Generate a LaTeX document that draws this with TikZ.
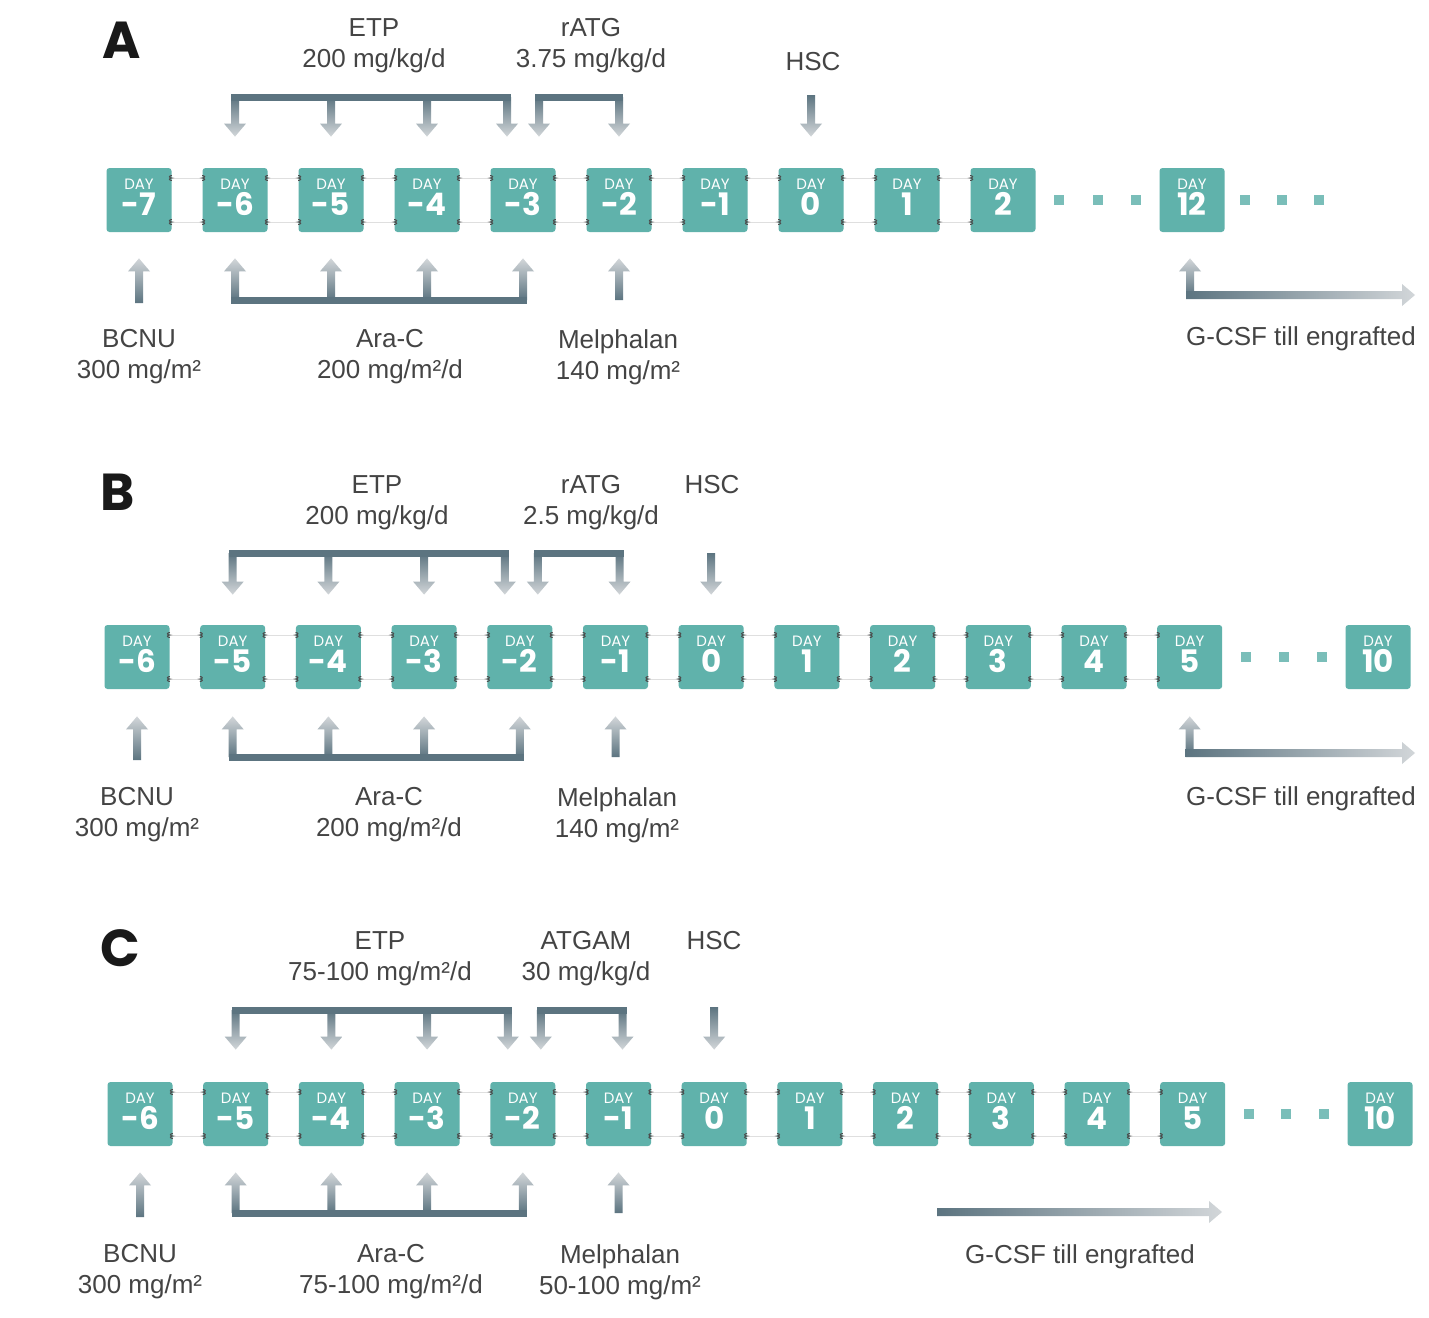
\documentclass[tikz,border=0pt]{standalone}
\usepackage{fontspec}
\setmainfont{Liberation Sans}
\newfontfamily\dayfont{Poppins}
\usetikzlibrary{arrows.meta,calc}
\definecolor{daytl}{RGB}{96,178,171}
\definecolor{dotcl}{RGB}{122,190,185}
\definecolor{arrdark}{RGB}{92,116,128}
\definecolor{arrlight}{RGB}{210,214,217}
\definecolor{txtgr}{RGB}{68,68,68}

\newcommand{\daytxt}[1]{{\fontsize{7.5}{7.5}\selectfont DAY}\\{\bfseries #1}}
% #1 box, #2 height of the bar, #3 x offset, #4 gap to the box
\newcommand{\dnarr}[4]{%
  \path ($(#1.north |- #2)+(#3,0)$) coordinate (aT) ($(#1.north)+(#3,-#4)$) coordinate (aH);
  \shade[top color=arrdark,bottom color=arrlight] ($(aT)+(-4,0)$) -- ($(aT)+(4,0)$)
    -- ($(aH)+(4,-13)$) -- ($(aH)+(11,-13)$) -- (aH) -- ($(aH)+(-11,-13)$) -- ($(aH)+(-4,-13)$) -- cycle;}
\newcommand{\uparr}[4]{%
  \path ($(#1.south |- #2)+(#3,0)$) coordinate (aT) ($(#1.south)+(#3,#4)$) coordinate (aH);
  \shade[top color=arrlight,bottom color=arrdark] ($(aT)+(-4,0)$) -- ($(aT)+(4,0)$)
    -- ($(aH)+(4,13)$) -- ($(aH)+(11,13)$) -- (aH) -- ($(aH)+(-11,13)$) -- ($(aH)+(-4,13)$) -- cycle;}
\newcommand{\rtarr}[2]{%
  \shade[left color=arrdark,right color=arrlight] ($(#1)+(0,-4)$) -- ($(#2)+(-13,-4)$)
    -- ($(#2)+(-13,-11)$) -- (#2) -- ($(#2)+(-13,11)$) -- ($(#2)+(-13,4)$) -- ($(#1)+(0,4)$) -- cycle;}

\begin{document}
\begin{tikzpicture}[x=0.5pt,y=-0.5pt,
  daybox/.style={rectangle,rounded corners=1.5pt,fill=daytl,text=white,minimum width=32.5pt,
    minimum height=32pt,inner sep=0pt,align=center,text depth=3pt,font=\dayfont\fontsize{15.5}{13}\selectfont},
  link/.style={gray!25,line width=0.5pt,{Hooks[length=1.5pt,width=3pt,color=black!70]}-{Hooks[length=1.5pt,width=3pt,color=black!70]}},
  lbl/.style={align=center,text=txtgr,font=\fontsize{13}{15.5}\selectfont},
  panel/.style={text=black!90,font=\dayfont\bfseries\fontsize{26}{26}\selectfont},
  dot/.style={fill=dotcl}]
\fill[white] (0,0) rectangle (1429,1317);
\useasboundingbox (0,0) rectangle (1429,1317);

% A
\node[panel] (pA) at (122,40) {A};
\foreach \d [count=\i from 0] in {-7,...,2}
  \node[daybox] (a\d) at (139+96*\i,200) {\daytxt{\d}};
\node[daybox] (a12) at (1192,200) {\daytxt{12}};
\foreach \d [remember=\d as \p (initially -7)] in {-6,...,2}{
  \draw[link] ($(a\p.east)+(-3,-22)$) -- ($(a\d.west)+(3,-22)$);
  \draw[link] ($(a\p.east)+(-3,22)$) -- ($(a\d.west)+(3,22)$);}
\foreach \f in {0.19,0.5,0.81} \fill[dot] ($(a2.east)!\f!(a12.west)$) +(-5,-5) rectangle +(5,5);
\foreach \dx in {20,57,94} \fill[dot] ($(a12.east)+(\dx,0)$) +(-5,-5) rectangle +(5,5);
\coordinate (etpA) at (0,97);
\coordinate (hscA) at (0,95);
\foreach \d in {-6,-5,-4} \dnarr{a\d}{etpA}{0}{31};
\dnarr{a-3}{etpA}{-16}{31};
\dnarr{a-3}{etpA}{16}{31};
\dnarr{a-2}{etpA}{0}{31};
\dnarr{a0}{hscA}{0}{31};
\fill[arrdark] ($(a-6.north |- etpA)+(-4,-3.5)$) rectangle ($(a-3.north |- etpA)+(-12,3.5)$);
\fill[arrdark] ($(a-3.north |- etpA)+(12,-3.5)$) rectangle ($(a-2.north |- etpA)+(4,3.5)$);
\coordinate (bcnuA) at (0,303);
\coordinate (aracA) at (0,300);
\uparr{a-7}{bcnuA}{0}{26};
\foreach \d in {-6,...,-3} \uparr{a\d}{aracA}{0}{26};
\uparr{a-2}{aracA}{0}{26};
\fill[arrdark] ($(a-6.south |- aracA)+(-4,-3.5)$) rectangle ($(a-3.south |- aracA)+(4,3.5)$);
\coordinate (gcsfA) at (1415,295);
\uparr{a12}{gcsfA}{-2}{26};
\coordinate (gcsfAs) at ($(a12.south |- gcsfA)+(-6,0)$);
\rtarr{gcsfAs}{gcsfA};
\node[lbl] (etpAl) at (374,46) {ETP\\200 mg/kg/d};
\node[lbl] (atgAl) at (591,46) {rATG\\3.75 mg/kg/d};
\node[lbl] (hscAl) at (813,62) {HSC};
\node[lbl] (bcnuAl) at (139,357) {BCNU\\300 mg/m²};
\node[lbl] (aracAl) at (390,357) {Ara-C\\200 mg/m²/d};
\node[lbl] (melAl) at (618,357) {Melphalan\\140 mg/m²};
\node[lbl] (gcsfAl) at (1301,339) {G-CSF till engrafted};

% B
\node[panel] (pB) at (118,492) {B};
\foreach \d [count=\i from 0] in {-6,...,5}
  \node[daybox] (b\d) at (137+95.7*\i,657) {\daytxt{\d}};
\node[daybox] (b10) at (1378,657) {\daytxt{10}};
\foreach \d [remember=\d as \p (initially -6)] in {-5,...,5}{
  \draw[link] ($(b\p.east)+(-3,-22)$) -- ($(b\d.west)+(3,-22)$);
  \draw[link] ($(b\p.east)+(-3,22)$) -- ($(b\d.west)+(3,22)$);}
\foreach \f in {0.19,0.5,0.81} \fill[dot] ($(b5.east)!\f!(b10.west)$) +(-5,-5) rectangle +(5,5);
\coordinate (etpB) at (0,553);
\foreach \d in {-5,-4,-3} \dnarr{b\d}{etpB}{0}{30};
\dnarr{b-2}{etpB}{-15}{30};
\dnarr{b-2}{etpB}{18}{30};
\dnarr{b-1}{etpB}{4}{30};
\dnarr{b0}{etpB}{0}{30};
\fill[arrdark] ($(b-5.north |- etpB)+(-4,-3.5)$) rectangle ($(b-2.north |- etpB)+(-11,3.5)$);
\fill[arrdark] ($(b-2.north |- etpB)+(14,-3.5)$) rectangle ($(b-1.north |- etpB)+(8,3.5)$);
\coordinate (bcnuB) at (0,760);
\coordinate (aracB) at (0,757);
\uparr{b-6}{bcnuB}{0}{27};
\foreach \d in {-5,...,-2} \uparr{b\d}{aracB}{0}{27};
\uparr{b-1}{aracB}{0}{27};
\fill[arrdark] ($(b-5.south |- aracB)+(-4,-3.5)$) rectangle ($(b-2.south |- aracB)+(4,3.5)$);
\coordinate (gcsfB) at (1415,753);
\uparr{b5}{gcsfB}{0}{27};
\coordinate (gcsfBs) at ($(b5.south |- gcsfB)+(-4,0)$);
\rtarr{gcsfBs}{gcsfB};
\node[lbl] (etpBl) at (377,503) {ETP\\200 mg/kg/d};
\node[lbl] (atgBl) at (591,503) {rATG\\2.5 mg/kg/d};
\node[lbl] (hscBl) at (712,485) {HSC};
\node[lbl] (bcnuBl) at (137,815) {BCNU\\300 mg/m²};
\node[lbl] (aracBl) at (389,815) {Ara-C\\200 mg/m²/d};
\node[lbl] (melBl) at (617,815) {Melphalan\\140 mg/m²};
\node[lbl] (gcsfBl) at (1301,799) {G-CSF till engrafted};

% C
\node[panel] (pC) at (120,948) {C};
\foreach \d [count=\i from 0] in {-6,...,5}
  \node[daybox] (c\d) at (140+95.7*\i,1114) {\daytxt{\d}};
\node[daybox] (c10) at (1380,1114) {\daytxt{10}};
\foreach \d [remember=\d as \p (initially -6)] in {-5,...,5}{
  \draw[link] ($(c\p.east)+(-3,-22)$) -- ($(c\d.west)+(3,-22)$);
  \draw[link] ($(c\p.east)+(-3,22)$) -- ($(c\d.west)+(3,22)$);}
\foreach \f in {0.19,0.5,0.81} \fill[dot] ($(c5.east)!\f!(c10.west)$) +(-5,-5) rectangle +(5,5);
\coordinate (etpC) at (0,1010);
\coordinate (hscC) at (0,1007);
\foreach \d in {-5,-4,-3} \dnarr{c\d}{etpC}{0}{32};
\dnarr{c-2}{etpC}{-15}{32};
\dnarr{c-2}{etpC}{18}{32};
\dnarr{c-1}{etpC}{4}{32};
\dnarr{c0}{hscC}{0}{32};
\fill[arrdark] ($(c-5.north |- etpC)+(-4,-3.5)$) rectangle ($(c-2.north |- etpC)+(-11,3.5)$);
\fill[arrdark] ($(c-2.north |- etpC)+(14,-3.5)$) rectangle ($(c-1.north |- etpC)+(8,3.5)$);
\coordinate (bcnuC) at (0,1217);
\coordinate (aracC) at (0,1213);
\uparr{c-6}{bcnuC}{0}{26};
\foreach \d in {-5,...,-2} \uparr{c\d}{aracC}{0}{26};
\uparr{c-1}{aracC}{0}{26};
\fill[arrdark] ($(c-5.south |- aracC)+(-4,-3.5)$) rectangle ($(c-2.south |- aracC)+(4,3.5)$);
\coordinate (gcsfCs) at (937,1212);
\coordinate (gcsfC) at (1222,1212);
\rtarr{gcsfCs}{gcsfC};
\node[lbl] (etpCl) at (380,959) {ETP\\75-100 mg/m²/d};
\node[lbl] (atgCl) at (586,959) {ATGAM\\30 mg/kg/d};
\node[lbl] (hscCl) at (714,941) {HSC};
\node[lbl] (bcnuCl) at (140,1272) {BCNU\\300 mg/m²};
\node[lbl] (aracCl) at (391,1272) {Ara-C\\75-100 mg/m²/d};
\node[lbl] (melCl) at (620,1272) {Melphalan\\50-100 mg/m²};
\node[lbl] (gcsfCl) at (1080,1257) {G-CSF till engrafted};
\end{tikzpicture}
\end{document}
